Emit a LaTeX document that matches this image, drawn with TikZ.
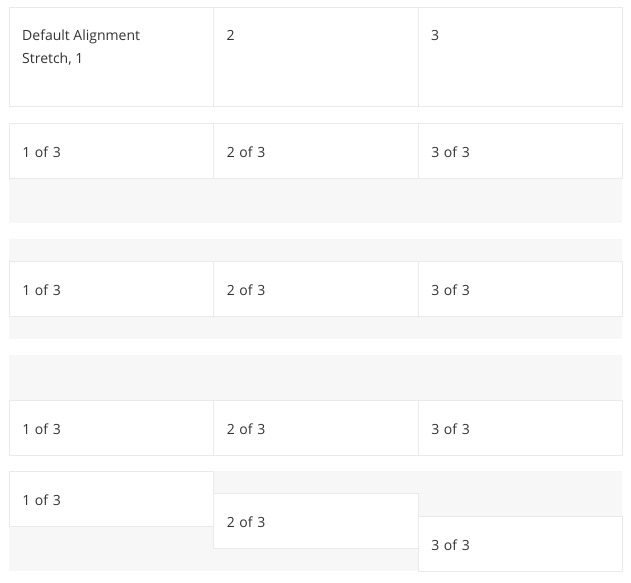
\documentclass[tikz,border=0pt]{standalone}
\usepackage{fontspec}
\setmainfont{Open Sans}
\usepackage{tikz}
\usetikzlibrary{positioning}
\definecolor{rowgray}{HTML}{F7F7F7}
\definecolor{cellline}{HTML}{EAEAEA}
\definecolor{celltext}{HTML}{333333}

\begin{document}
\begin{tikzpicture}[
    x=1pt, y=-1pt,
    font=\fontsize{14}{23.5}\selectfont,
    text=celltext,
    cell/.style={
		rectangle,
		draw=cellline,
		line width=1pt,
		fill=white,
		anchor=north west,
		outer sep=0pt,
		minimum width=204.5pt,
		minimum height=55pt,
		inner xsep=13pt,
		inner ysep=0pt,
		text width=178pt,
		text height=13pt,
		text depth=0pt,
		align=left
	},
	tallcell/.style={
		cell,
		minimum height=99pt
	},
	band/.style={
		rectangle,
		fill=rowgray,
		anchor=north west,
		minimum width=613pt,
		minimum height=100pt,
		inner sep=0pt,
		outer sep=0pt
	},
	celllabel/.style={
		anchor=base west,
		inner sep=0pt,
		align=left
	}
  ]
  \useasboundingbox (0,0) rectangle (631,582);

    % first row: stretched cells
  \node [tallcell] (s1) at (9,7) {};
  \node [tallcell] (s2) at (213.5,7) {};
  \node [tallcell] (s3) at (418,7) {};
  \node [celllabel] (s1text) at ([xshift=13pt,yshift=-56.5pt]s1.north west)
 {Default Alignment\\Stretch, 1};
  \node [celllabel] (s2text) at ([xshift=13pt,yshift=-33pt]s2.north west) {2};
  \node [celllabel] (s3text) at ([xshift=13pt,yshift=-33pt]s3.north west) {3};

    % top aligned
  \node [band] (top) at (9,123) {};
  \node [cell] (top1) at (top.north west) {1 of 3};
  \node [cell, right=0pt of top1.north east, anchor=north west] (top2) {2 of 3};
  \node [cell, right=0pt of top2.north east, anchor=north west] (top3) {3 of 3};

    % centered
  \node [band] (mid) at (9,239) {};
  \node [cell, anchor=west] (mid1) at (mid.west) {1 of 3};
  \node [cell, right=0pt of mid1.north east, anchor=north west] (mid2) {2 of 3};
  \node [cell, right=0pt of mid2.north east, anchor=north west] (mid3) {3 of 3};

    % bottom aligned
  \node [band] (bot) at (9,355) {};
  \node [cell, anchor=south west] (bot1) at (bot.south west) {1 of 3};
  \node [cell, right=0pt of bot1.north east, anchor=north west] (bot2) {2 of 3};
  \node [cell, right=0pt of bot2.north east, anchor=north west] (bot3) {3 of 3};

    % individual alignment, one per cell
  \node [band] (self) at (9,471) {};
  \node [cell] (self1) at (self.north west) {1 of 3};
  \node [cell, anchor=west] (self2) at ([xshift=204.5pt]self.west) {2 of 3};
  \node [cell, anchor=south west] (self3) at ([xshift=409pt]self.south west) {3 of 3};
\end{tikzpicture}
\end{document}
